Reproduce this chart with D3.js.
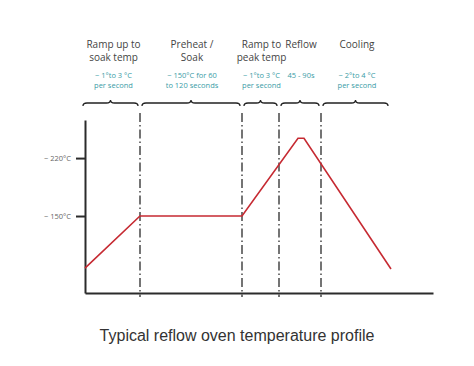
<!DOCTYPE html>
<html>
<head>
<meta charset="utf-8">
<script src="https://cdn.jsdelivr.net/npm/d3@7"></script>
<style>
    html, body { margin: 0; padding: 0; background: #fff; }
    svg { display: block; }
</style>
</head>
<body>
<div id="chart"></div>
<script>
'use strict';

// reflow profile, time in seconds, temperature in degC
var profileTime = [0, 55, 157, 213, 219, 306];
var profileTemp = [87, 150, 150, 244, 244, 86];

// phase boundaries (s)
var phaseStart = [0, 55, 157, 194, 236];
var phaseEnd = [55, 157, 194, 236, 306];
var phaseTitle = [
    ['Ramp up to', 'soak temp'],
    ['Preheat /', 'Soak'],
    ['Ramp to', 'peak temp'],
    ['Reflow'],
    ['Cooling']
];
var phaseNote = [
    ['~ 1°to 3 °C', 'per second'],
    ['~ 150°C for 60', 'to 120 seconds'],
    ['~ 1°to 3 °C', 'per second'],
    ['45 - 90s'],
    ['~ 2°to 4 °C', 'per second']
];
var dividers = [55, 157, 194, 236];

var tempTicks = [150, 220];
var tempTickLabels = ['~ 150°C', '~ 220°C'];

var width = 474, height = 366;

var svg = d3.select('#chart').append('svg')
    .attr('width', width)
    .attr('height', height);

var x = d3.scaleLinear().domain([0, 348]).range([85, 433]);
var y = d3.scaleLinear().domain([57, 266]).range([293, 120]);

var axisColor = '#2b2b2b';

// dash-dot phase dividers
svg.selectAll('line.divider')
    .data(dividers)
    .enter().append('line')
    .attr('class', 'divider')
    .attr('x1', function(d) { return x(d); })
    .attr('x2', function(d) { return x(d); })
    .attr('y1', 113)
    .attr('y2', 297)
    .style('stroke', '#3a3a3a')
    .style('stroke-width', 1.4)
    .style('stroke-dasharray', '9,3,1.5,3');

// axes
var yAxis = d3.axisLeft(y)
    .tickValues(tempTicks)
    .tickSize(9)
    .tickSizeOuter(0)
    .tickPadding(5)
    .tickFormat(function(d, i) { return tempTickLabels[i]; });

var gy = svg.append('g')
    .attr('transform', 'translate(' + x(0) + ',0)')
    .call(yAxis);
gy.select('.domain').style('stroke', axisColor).style('stroke-width', 2);
gy.selectAll('.tick line').style('stroke', axisColor).style('stroke-width', 2);
gy.selectAll('.tick text')
    .style('font-family', '"Open Sans", sans-serif')
    .style('font-size', '7.5px')
    .style('fill', '#666');

var xAxis = d3.axisBottom(x)
    .tickValues([])
    .tickSizeOuter(0);

var gx = svg.append('g')
    .attr('transform', 'translate(0,' + y.range()[0] + ')')
    .call(xAxis);
gx.select('.domain').style('stroke', axisColor).style('stroke-width', 2);

// temperature curve
var line = d3.line()
    .x(function(d) { return x(d[0]); })
    .y(function(d) { return y(d[1]); });

svg.append('path')
    .datum(d3.zip(profileTime, profileTemp))
    .attr('d', line)
    .style('fill', 'none')
    .style('stroke', '#c62a32')
    .style('stroke-width', 1.6);

// curly braces over the phases
function brace(x1, x2, yb) {
    var xm = (x1 + x2) / 2, r = 4, h = 3;
    return 'M' + x1 + ',' + (yb + h) +
        'Q' + x1 + ',' + yb + ' ' + (x1 + r) + ',' + yb +
        'L' + (xm - r) + ',' + yb +
        'Q' + xm + ',' + yb + ' ' + xm + ',' + (yb - h) +
        'Q' + xm + ',' + yb + ' ' + (xm + r) + ',' + yb +
        'L' + (x2 - r) + ',' + yb +
        'Q' + x2 + ',' + yb + ' ' + x2 + ',' + (yb + h);
}

var phases = phaseStart.map(function(s, i) {
    return { start: s, end: phaseEnd[i], title: phaseTitle[i], note: phaseNote[i] };
});

svg.selectAll('path.brace')
    .data(phases)
    .enter().append('path')
    .attr('class', 'brace')
    .attr('d', function(d, i) {
        var x1 = i === 0 ? x(d.start) - 2 : x(d.start) + 2;
        var x2 = i === phases.length - 1 ? x(d.end) - 3 : x(d.end) - 2;
        return brace(x1, x2, 103);
    })
    .style('fill', 'none')
    .style('stroke', '#222')
    .style('stroke-width', 1.3);

var labels = svg.selectAll('g.phase')
    .data(phases)
    .enter().append('g')
    .attr('class', 'phase')
    .attr('transform', function(d) {
        return 'translate(' + x((d.start + d.end) / 2 + 1) + ',0)';
    });

labels.each(function(d) {
    var g = d3.select(this);
    d.title.forEach(function(t, j) {
        g.append('text')
            .attr('y', 48 + j * 13)
            .attr('text-anchor', 'middle')
            .style('font-family', '"Open Sans", sans-serif')
            .style('font-size', '10px')
            .style('fill', '#444')
            .text(t);
    });
    d.note.forEach(function(t, j) {
        g.append('text')
            .attr('y', 78 + j * 10)
            .attr('text-anchor', 'middle')
            .style('font-family', '"Open Sans", sans-serif')
            .style('font-size', '7.5px')
            .style('fill', '#3a9ca6')
            .text(t);
    });
});

// caption
svg.append('text')
    .attr('x', 237)
    .attr('y', 341)
    .attr('text-anchor', 'middle')
    .style('font-family', '"Liberation Sans", Arial, sans-serif')
    .style('font-size', '16px')
    .style('fill', '#333')
    .text('Typical reflow oven temperature profile');
</script>
</body>
</html>
